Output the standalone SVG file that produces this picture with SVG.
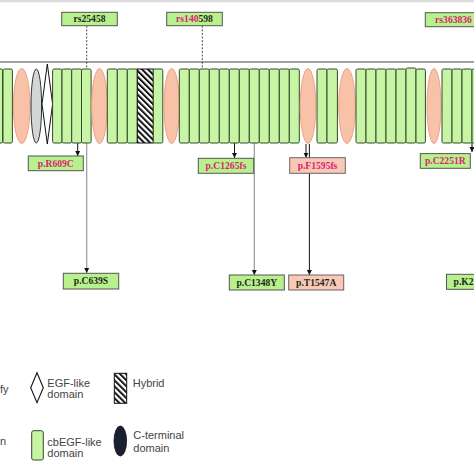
<svg xmlns="http://www.w3.org/2000/svg" width="474" height="474" viewBox="0 0 474 474">
<defs>
<style>
.cb{fill:#c8f4a6;stroke:#2f4a25;stroke-width:1}
.ca{fill:#f8c2a9;stroke:#eba488;stroke-width:1}
.lb{fill:#b8f08e;stroke:#555;stroke-width:1}
.lp{fill:#f9c8b6;stroke:#666;stroke-width:1}
.t{font-family:"Liberation Serif","Times New Roman",serif;font-weight:bold;font-size:9.6px;text-anchor:middle}
.m{fill:#d8246e}
.d{fill:#1b2a18}
.lg{font-family:"Liberation Sans",Arial,sans-serif;font-size:11px;fill:#444}
.ar{stroke:#111;stroke-width:1;fill:none}
.gr{stroke:#9a9a9a;stroke-width:1.2;fill:none}
.ds{stroke:#333;stroke-width:0.9;stroke-dasharray:2,1.6;fill:none}
</style>
<pattern id="hatch" patternUnits="userSpaceOnUse" width="4.2" height="4.2" patternTransform="rotate(-45)">
<rect width="4.2" height="4.2" fill="#fff"/>
<rect width="2" height="4.2" fill="#111"/>
</pattern>
<marker id="ah" markerWidth="6" markerHeight="6" refX="5" refY="3" orient="auto" markerUnits="userSpaceOnUse">
<path d="M0,0.5 L5,3 L0,5.5 Z" fill="#111"/>
</marker>
</defs>
<rect x="0" y="0" width="474" height="2.5" fill="#dcdcdc"/>
<rect x="0" y="2.5" width="474" height="471.5" fill="#fff"/>
<line x1="0" y1="62" x2="474" y2="62" stroke="#444" stroke-width="1.1"/>

<g id="connectors">
<line class="ds" x1="86.7" y1="25.7" x2="86.7" y2="69"/>
<line class="ds" x1="202.3" y1="25.7" x2="202.3" y2="69"/>
<line class="ar" x1="77.7" y1="143" x2="77.7" y2="156" marker-end="url(#ah)"/>
<line class="gr" x1="86.7" y1="143" x2="86.7" y2="273" marker-end="url(#ah)"/>
<line class="ar" x1="234.5" y1="143" x2="234.5" y2="158" marker-end="url(#ah)"/>
<line class="gr" x1="254.3" y1="143" x2="254.3" y2="275" marker-end="url(#ah)"/>
<line class="ar" x1="306" y1="144" x2="306" y2="157.7" marker-end="url(#ah)"/>
<line class="ar" x1="309.4" y1="144" x2="309.4" y2="275" marker-end="url(#ah)"/>
<line class="ar" x1="472" y1="143" x2="472" y2="152" marker-end="url(#ah)"/>
</g>

<g id="domains">
<rect class="cb" x="-7" y="69" width="9.6" height="74" rx="1.5"/>
<rect class="cb" x="3" y="69" width="9.4" height="74" rx="1.5"/>
<ellipse class="ca" cx="21.7" cy="106" rx="8.3" ry="37.5"/>
<ellipse cx="36.3" cy="106" rx="5.3" ry="37" fill="#d2d6d7" stroke="#333" stroke-width="1"/>
<polygon points="47.3,64 52.6,104 47.3,144 42,104" fill="#fff" stroke="#111" stroke-width="1"/>
<rect class="cb" x="52.6" y="69" width="9.4" height="74" rx="1.5"/>
<rect class="cb" x="62" y="69" width="9.7" height="74" rx="1.5"/>
<rect class="cb" x="71.7" y="69" width="9.8" height="74" rx="1.5"/>
<rect class="cb" x="81.5" y="69" width="9.6" height="74" rx="1.5"/>
<ellipse class="ca" cx="99.5" cy="106" rx="7.8" ry="37.5"/>
<rect class="cb" x="107.3" y="69" width="10" height="74" rx="1.5"/>
<rect class="cb" x="117.3" y="69" width="10" height="74" rx="1.5"/>
<rect class="cb" x="127.3" y="69" width="10" height="74" rx="1.5"/>
<rect x="137.3" y="69" width="16" height="74" fill="url(#hatch)" stroke="#111" stroke-width="1"/>
<rect class="cb" x="153.3" y="69" width="9.5" height="74" rx="1.5"/>
<ellipse class="ca" cx="171.7" cy="106" rx="7.7" ry="37.5"/>
<rect class="cb" x="179.3" y="69" width="10" height="74" rx="1.5"/>
<rect class="cb" x="189.3" y="69" width="10" height="74" rx="1.5"/>
<rect class="cb" x="199.3" y="69" width="10" height="74" rx="1.5"/>
<rect class="cb" x="209.3" y="69" width="10" height="74" rx="1.5"/>
<rect class="cb" x="219.3" y="69" width="10" height="74" rx="1.5"/>
<rect class="cb" x="229.3" y="69" width="10" height="74" rx="1.5"/>
<rect class="cb" x="239.3" y="69" width="10" height="74" rx="1.5"/>
<rect class="cb" x="249.3" y="69" width="10" height="74" rx="1.5"/>
<rect class="cb" x="259.3" y="69" width="10" height="74" rx="1.5"/>
<rect class="cb" x="269.3" y="69" width="10" height="74" rx="1.5"/>
<rect class="cb" x="279.3" y="69" width="10" height="74" rx="1.5"/>
<rect class="cb" x="289.3" y="69" width="10" height="74" rx="1.5"/>
<ellipse class="ca" cx="308" cy="106" rx="7.8" ry="37.5"/>
<rect class="cb" x="317" y="69" width="10" height="74" rx="1.5"/>
<rect class="cb" x="327" y="69" width="10.4" height="74" rx="1.5"/>
<ellipse class="ca" cx="347" cy="106" rx="8.3" ry="37.5"/>
<rect class="cb" x="356" y="69" width="10" height="74" rx="1.5"/>
<rect class="cb" x="366" y="69" width="10" height="74" rx="1.5"/>
<rect class="cb" x="376" y="69" width="10" height="74" rx="1.5"/>
<rect class="cb" x="386" y="69" width="10" height="74" rx="1.5"/>
<rect class="cb" x="396" y="69" width="10" height="74" rx="1.5"/>
<rect class="cb" x="406" y="68" width="10" height="75" rx="1.5"/>
<rect class="cb" x="416" y="69" width="9.4" height="74" rx="1.5"/>
<ellipse class="ca" cx="434" cy="106" rx="7" ry="37.5"/>
<rect class="cb" x="442" y="69" width="10" height="74" rx="1.5"/>
<rect class="cb" x="452" y="69" width="10" height="74" rx="1.5"/>
<rect class="cb" x="462" y="69" width="10" height="74" rx="1.5"/>
<rect class="cb" x="472" y="69" width="10" height="74" rx="1.5"/>
</g>

<g id="rs25458"><rect class="lb" x="61.7" y="12.3" width="55.6" height="13.4"/><text class="t d" x="89.5" y="22.4">rs25458</text></g>
<g id="rs140598"><rect class="lb" x="166.7" y="12.3" width="55.6" height="13.4"/><text class="t" x="194.5" y="22.4"><tspan class="m">rs140</tspan><tspan class="d">598</tspan></text></g>
<g id="rs363836"><rect class="lb" x="425.3" y="12.7" width="60" height="14"/><text class="t m" x="453.5" y="23">rs363836</text></g>

<g id="pR609C"><rect class="lb" x="28.3" y="156" width="55" height="14.7"/><text class="t m" x="55.8" y="166.6">p.R609C</text></g>
<g id="pC639S"><rect class="lb" x="63.3" y="273.3" width="55.4" height="15.7"/><text class="t d" x="91" y="284.4">p.C639S</text></g>
<g id="pC1265fs"><rect class="lb" x="198.3" y="158.3" width="55.4" height="15"/><text class="t m" x="226" y="169.1">p.C1265fs</text></g>
<g id="pC1348Y"><rect class="lb" x="229.3" y="275" width="55" height="15"/><text class="t d" x="256.8" y="285.8">p.C1348Y</text></g>
<g id="pF1595fs"><rect class="lp" x="289.7" y="157.7" width="55.6" height="15.6"/><text class="t m" x="317.5" y="168.8">p.F1595fs</text></g>
<g id="pT1547A"><rect class="lp" x="288.7" y="275" width="55" height="15"/><text class="t d" x="316.2" y="285.8">p.T1547A</text></g>
<g id="pC2251R"><rect class="lb" x="420.3" y="153.6" width="50" height="14.7"/><text class="t m" x="445.3" y="164.3">p.C2251R</text></g>
<g id="pK2"><rect class="lb" x="446.5" y="274.3" width="40" height="15"/><text class="t d" x="453.6" y="285.1" style="text-anchor:start">p.K2</text></g>

<g id="legend">
<text class="lg" x="0" y="393">fy</text>
<text class="lg" x="0" y="445">n</text>
<polygon points="37,372.7 43.3,387.7 37,402.7 30.7,387.7" fill="#fff" stroke="#111" stroke-width="1.1"/>
<text class="lg" x="47.3" y="386.7">EGF-like</text>
<text class="lg" x="47.3" y="398.3">domain</text>
<rect x="114.3" y="373.3" width="12.4" height="30" fill="url(#hatch)" stroke="#111" stroke-width="1"/>
<text class="lg" x="132.7" y="387.3">Hybrid</text>
<rect class="cb" x="31.7" y="430.7" width="11.6" height="29.3" rx="2"/>
<text class="lg" x="47.3" y="445.7">cbEGF-like</text>
<text class="lg" x="47.3" y="457.3">domain</text>
<ellipse cx="120.3" cy="441" rx="6.3" ry="15" fill="#1a2030" stroke="#111" stroke-width="0.8"/>
<text class="lg" x="133.3" y="439">C-terminal</text>
<text class="lg" x="133.3" y="451.7">domain</text>
</g>
</svg>
